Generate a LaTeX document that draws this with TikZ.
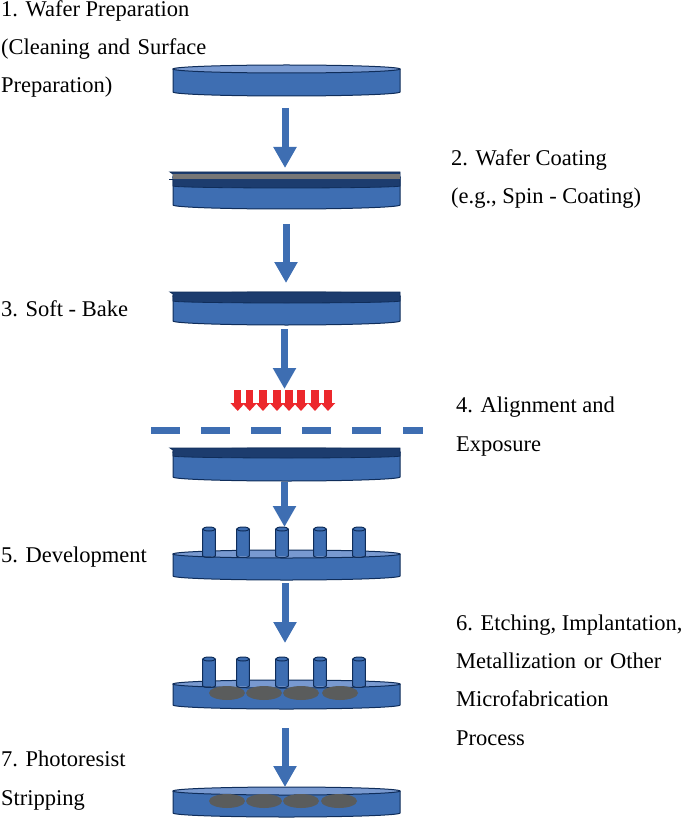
\documentclass[tikz,border=0pt]{standalone}
\usepackage{fontspec}
\setmainfont{Liberation Serif}
\usetikzlibrary{arrows.meta}
\definecolor{waferblue}{RGB}{62,110,178}
\definecolor{wafertop}{RGB}{120,153,208}
\definecolor{waferline}{RGB}{15,45,90}
\definecolor{resistdark}{RGB}{28,60,110}
\definecolor{resistgrey}{RGB}{118,118,118}
\definecolor{implant}{RGB}{90,92,92}
\definecolor{exposered}{RGB}{236,40,44}
\tikzset{
  flowarrow/.style={draw=waferblue,line width=7pt,-{Triangle[length=21pt,width=22pt]}},
  exposearrow/.style={draw=exposered,line width=7.5pt,-{Triangle[length=8pt,width=14pt]}},
  maskdash/.style={draw=waferblue,line width=7pt},
  waferedge/.style={draw=waferline,line width=1pt},
  steplabel/.style={anchor=base west,align=left,font=\fontsize{22.5}{38.3}\selectfont,inner sep=0pt},
}
% wafer body, #1 = y of the top face centre, #2 = y of the lower corners
\newcommand{\waferbody}[2]{
  \fill[waferblue] (173,#1) -- (173,#2) arc[start angle=180,end angle=0,x radius=113.5,y radius=4] -- (400,#1) -- cycle;
  \draw[waferedge,fill=wafertop] (286.5,#1) ellipse[x radius=113.5,y radius=4];
  \draw[waferedge] (173,#1) -- (173,#2) arc[start angle=180,end angle=0,x radius=113.5,y radius=4] -- (400,#1);
}
% dark resist layer on a wafer
\newcommand{\resistlayer}[2]{
  \fill[resistdark,draw=waferline,line width=0.8pt] (170,#1) -- (400,#1) -- (400,#2) arc[start angle=0,end angle=180,x radius=113.5,y radius=2] -- (173,#1+2) -- cycle;
}
% one post standing on a wafer, #1 = x, #2 = y of the post top
\newcommand{\resistpost}[2]{
  \fill[waferblue] (#1-6.3,#2) rectangle (#1+6.3,#2+27);
  \draw[waferedge] (#1-6.3,#2) -- (#1-6.3,#2+27) arc[start angle=180,end angle=0,x radius=6.3,y radius=1.5] -- (#1+6.3,#2);
  \draw[waferedge,fill=waferblue] (#1,#2) ellipse[x radius=6.3,y radius=2];
}
\begin{document}
\begin{tikzpicture}[x=1pt,y=-1pt]
  \useasboundingbox (0,0) rectangle (685,818);

  % wafers
  \waferbody{69}{92}

  \waferbody{177}{205}
  \resistlayer{172}{186}
  \fill[resistgrey] (173,174) rectangle (400,179);
  \draw[waferline,line width=0.7pt] (169,179) -- (173,179);

  \waferbody{296}{321}
  \resistlayer{292}{301}

  \waferbody{452}{477}
  \resistlayer{448}{456}

  \waferbody{554}{576}
  \foreach \x in {209,243,282,320,359} {\resistpost{\x}{529}}

  \waferbody{684}{705}
  \foreach \x in {209,243,282,320,359} {\resistpost{\x}{659}}
  \foreach \x in {227,264,301,340} {\fill[implant] (\x,693) ellipse[x radius=18,y radius=7];}

  \waferbody{791}{813}
  \foreach \x in {227,264,301,339} {\fill[implant] (\x,801) ellipse[x radius=18,y radius=7];}

  % arrows between the wafers
  \coordinate (a1) at (285,108);
  \coordinate (b1) at (285,168);
  \coordinate (a2) at (286,224);
  \coordinate (b2) at (286,283);
  \coordinate (a3) at (284.5,329);
  \coordinate (b3) at (284.5,389);
  \coordinate (a4) at (284.5,482);
  \coordinate (b4) at (284.5,527);
  \coordinate (a5) at (285,583);
  \coordinate (b5) at (285,643);
  \coordinate (a6) at (285,728);
  \coordinate (b6) at (285,787);
  \foreach \i in {1,...,6} {\draw[flowarrow] (a\i) -- (b\i);}

  % exposure
  \foreach \x in {237.7,249.7,263,277,289,301,315,328} {\draw[exposearrow] (\x,390) -- (\x,411);}
  \foreach \xa/\xb in {151/180,201/230,251/281,302/331,352/381,403/423} {\draw[maskdash] (\xa,430) -- (\xb,430);}

  % labels, placed by the baseline of their last line
  \node[steplabel] (t1) at (1,93) {1. Wafer Preparation\\(Cleaning\hspace{7.6pt}and\hspace{7.6pt}Surface\\Preparation)};
  \node[steplabel] (t2) at (451,204) {2. Wafer Coating\\(e.g., Spin - Coating)};
  \node[steplabel] (t3) at (1,316) {3. Soft - Bake};
  \node[steplabel] (t4) at (456,451) {4. Alignment and\\Exposure};
  \node[steplabel] (t5) at (1,562) {5. Development};
  \node[steplabel] (t6) at (456,745) {6. Etching, Implantation,\\Metallization\hspace{7.6pt}or\hspace{7.6pt}Other\\Microfabrication\\Process};
  \node[steplabel] (t7) at (1,805) {7. Photoresist\\Stripping};
\end{tikzpicture}
\end{document}
